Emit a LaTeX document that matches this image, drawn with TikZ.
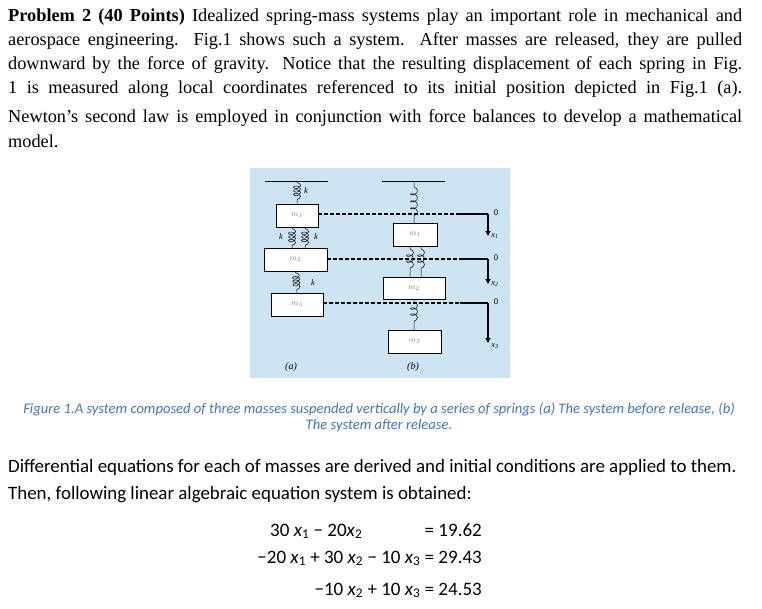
\documentclass[tikz,border=0pt]{standalone}
\usepackage{fontspec}
\setmainfont{Liberation Serif}
\newfontfamily\calfont{Carlito}
\usetikzlibrary{decorations.pathmorphing,arrows.meta}
\definecolor{capblue}{RGB}{68,114,196}
\definecolor{figbg}{RGB}{205,228,243}
\begin{document}
\begin{tikzpicture}[x=1pt,y=-1pt,
  line/.style={anchor=base west,inner sep=0pt,font=\fontsize{18.3}{20}\selectfont},
  mass/.style={draw,fill=white,line width=0.6pt,inner sep=0pt,font=\fontsize{8}{9}\selectfont\itshape\color{gray}},
  spr/.style={decorate,decoration={coil,aspect=0.6,segment length=3.6pt,amplitude=3.5pt,pre length=1.5pt,post length=1.5pt},line width=0.5pt},
  dsh/.style={line width=1.8pt,dash pattern=on 4pt off 2pt},
  arr/.style={line width=2pt,-{Triangle[length=5pt,width=5pt]}},
  sm/.style={font=\fontsize{8.5}{9}\selectfont\itshape,inner sep=0pt},
  eq/.style={font=\calfont\fontsize{19}{21}\selectfont,inner sep=0pt,anchor=base east}]
\useasboundingbox (0,0) rectangle (762,609);
\fill[white] (0,0) rectangle (762,609);
\node[line] (l1) at (8,22) {\makebox[734pt][s]{\textbf{Problem 2 (40 Points)} Idealized spring-mass systems play an important role in mechanical and}};
\node[line] (l2) at (8,46) {\makebox[734pt][s]{aerospace engineering. Fig.1 shows such a system. After masses are released, they are pulled}};
\node[line] (l3) at (8,70) {\makebox[734pt][s]{downward by the force of gravity. Notice that the resulting displacement of each spring in Fig.}};
\node[line] (l4) at (8,94) {\makebox[734pt][s]{1 is measured along local coordinates referenced to its initial position depicted in Fig.1 (a).}};
\node[line] (l5) at (8,123) {\makebox[734pt][s]{Newton's second law is employed in conjunction with force balances to develop a mathematical}};
\node[line] (l6) at (8,148) {model.};
% figure
\fill[figbg] (250,168) rectangle (510,378);
% (a)
\draw[line width=0.7pt] (265,181) -- (328,181);
\node[mass,minimum width=42pt,minimum height=23pt] (a1) at (297,215.5) {$m_1$};
\node[mass,minimum width=63pt,minimum height=23pt] (a2) at (295.5,259.5) {$m_2$};
\node[mass,minimum width=52pt,minimum height=23pt] (a3) at (297,304.5) {$m_3$};
\coordinate (ac) at (297,181);
\draw[spr] (ac) -- (a1.north);
\draw[spr] (292,227) -- (292,248);
\draw[spr] (305,227) -- (305,248);
\draw[spr] (a2.south) -- (a3.north);
\node[sm] (ka) at (306,191) {k};
\node[sm] (kb) at (281,237) {k};
\node[sm] (kc) at (316,237) {k};
\node[sm] (kd) at (313,283) {k};
% (b)
\draw[line width=0.7pt] (382,181) -- (445,181);
\node[mass,minimum width=44pt,minimum height=23pt] (b1) at (415,234.5) {$m_1$};
\node[mass,minimum width=62pt,minimum height=22pt] (b2) at (414,288) {$m_2$};
\node[mass,minimum width=53pt,minimum height=23pt] (b3) at (414.5,341.5) {$m_3$};
\coordinate (bc) at (414,181);
\draw[spr,decoration={segment length=7pt,pre length=6pt,post length=6pt}] (bc) -- (414,223);
\draw[spr,decoration={segment length=6pt,pre length=3pt,post length=3pt}] (410,246) -- (410,277);
\draw[spr,decoration={segment length=6pt,pre length=3pt,post length=3pt}] (421,246) -- (421,277);
\draw[spr,decoration={segment length=6pt,pre length=3pt,post length=3pt}] (414,299) -- (414,330);
% displacement lines
\coordinate (c1) at (460,214); \coordinate (e1) at (488,214); \coordinate (t1) at (488,236);
\coordinate (c2) at (460,259); \coordinate (e2) at (488,259); \coordinate (t2) at (488,284);
\coordinate (c3) at (460,303); \coordinate (e3) at (488,303); \coordinate (t3) at (488,343);
\draw[dsh] (a1.east |- c1) -- (c1);
\draw[dsh] (a2.east |- c2) -- (c2);
\draw[dsh] (a3.east |- c3) -- (c3);
\draw[line width=2pt] (c1) -- (e1); \draw[arr] (e1) -- (t1);
\draw[line width=2pt] (c2) -- (e2); \draw[arr] (e2) -- (t2);
\draw[line width=2pt] (c3) -- (e3); \draw[arr] (e3) -- (t3);
\node[font=\sffamily\fontsize{8.5}{9}\selectfont] (z1) at (496,213) {0};
\node[font=\sffamily\fontsize{8.5}{9}\selectfont] (z2) at (496,258) {0};
\node[font=\sffamily\fontsize{8.5}{9}\selectfont] (z3) at (496,302) {0};
\node[sm] (x1) at (495,236) {x\textsubscript{1}};
\node[sm] (x2) at (495,284) {x\textsubscript{2}};
\node[sm] (x3) at (495,346) {x\textsubscript{3}};
\node[sm,font=\fontsize{10}{11}\selectfont\itshape] (la) at (291,367) {(a)};
\node[sm,font=\fontsize{10}{11}\selectfont\itshape] (lb) at (413,367) {(b)};
% caption
\node[font=\calfont\itshape\fontsize{14.6}{16}\selectfont,text=capblue,inner sep=0pt] (cap1) at (379,409) {Figure 1.A system composed of three masses suspended vertically by a series of springs (a) The system before release, (b)};
\node[font=\calfont\itshape\fontsize{14.6}{16}\selectfont,text=capblue,inner sep=0pt] (cap2) at (379,426) {The system after release.};
% text
\node[line,font=\calfont\fontsize{18.9}{20}\selectfont] (d1) at (8,472) {Differential equations for each of masses are derived and initial conditions are applied to them.};
\node[line,font=\calfont\fontsize{18.9}{20}\selectfont] (d2) at (8,499) {Then, following linear algebraic equation system is obtained:};
% equations
\node[eq,anchor=base west] (e1a) at (270,536) {30 \textit{x}\textsubscript{1} − 20\textit{x}\textsubscript{2}};
\node[eq] (e1b) at (482,536) {= 19.62};
\node[eq] (e2) at (482,563) {−20 \textit{x}\textsubscript{1} + 30 \textit{x}\textsubscript{2} − 10 \textit{x}\textsubscript{3} = 29.43};
\node[eq] (e3) at (482,595) {−10 \textit{x}\textsubscript{2} + 10 \textit{x}\textsubscript{3} = 24.53};
\end{tikzpicture}
\end{document}
